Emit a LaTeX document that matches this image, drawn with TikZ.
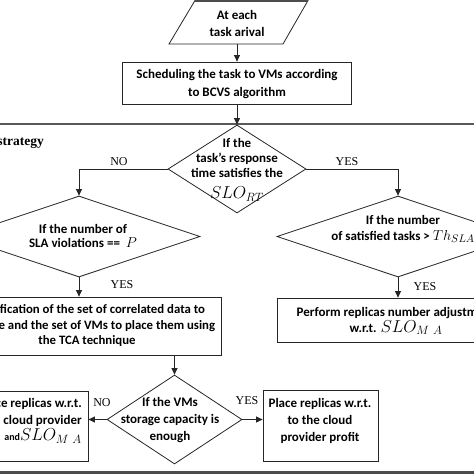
\documentclass[tikz,border=0pt]{standalone}
\usepackage{fontspec}
\setmainfont{Carlito}
\newfontfamily\lserif{Liberation Serif}
\usetikzlibrary{shapes.geometric,arrows.meta}
\tikzset{
  ln/.style={draw=black!85, line width=0.8pt},
  arr/.style={ln, -{Triangle[length=6.5pt,width=6pt]}},
  box/.style={ln, rectangle, inner sep=0pt},
  dia/.style={ln, diamond, inner sep=0pt},
  txt/.style={font=\fontsize{13}{16.5}\selectfont\bfseries, align=center, inner sep=0pt},
  lab/.style={font=\lserif\fontsize{12}{12}\selectfont, inner sep=0pt},
}
\newcommand{\mathbig}[2]{{\fontsize{#1}{#1}\selectfont$#2$}}
\begin{document}
\begin{tikzpicture}[x=1pt,y=-1pt]
\useasboundingbox (0,0) rectangle (474,474);
\clip (0,0) rectangle (474,474);
\fill[white] (0,0) rectangle (474,474);
% frame lines
\draw[draw=black!65, line width=1.3pt] (-10,124) -- (484,124);
\draw[draw=black!70, line width=3.5pt] (-10,473) -- (484,473);
\node[font=\lserif\bfseries\fontsize{13.5}{14}\selectfont, anchor=east, inner sep=0pt] (strat) at (44,142) {Replication strategy};
% start parallelogram
\draw[ln] (169,44) -- (195,0.5) -- (308,0.5) -- (283,44) -- cycle;
\draw[draw=black!70, line width=2pt] (195,1) -- (308,1);
\node[txt, font=\fontsize{13}{17}\selectfont\bfseries] (start) at (237,23) {At each\\task arival};
\coordinate (paraB) at (237,44);
% boxes
\node[box, minimum width=229pt, minimum height=42pt] (sched) at (237,83) {};
\node[txt, font=\fontsize{13}{18}\selectfont\bfseries] (schedt) at (237,84) {Scheduling the task to VMs according\\to BCVS algorithm};
\node[box, minimum width=266pt, minimum height=58pt] (ident) at (88,326) {};
\node[txt, font=\fontsize{12.8}{15.5}\selectfont\bfseries] (identt) at (87,326) {Identification of the set of correlated data to\\replicate and the set of VMs to place them using\\the TCA technique};
\node[box, minimum width=238pt, minimum height=44pt] (perf) at (396,320) {};
\node[txt, font=\fontsize{13}{16}\selectfont\bfseries] (perft) at (396,321) {Perform replicas number adjustment\\w.r.t. \mathbig{17}{SLO_{M\mkern6mu A}}};
\node[box, minimum width=115pt, minimum height=70pt] (lbox) at (30.5,426) {};
\node[txt, align=right, anchor=east, font=\fontsize{13}{16.5}\selectfont\bfseries] (lboxt) at (82,421) {Place replicas w.r.t.\\the cloud provider\hspace*{6pt}\\profit\hspace*{8pt}{\fontsize{10}{10}\selectfont and}\mathbig{17}{SLO_{M\mkern6mu A}}};
\node[box, minimum width=115pt, minimum height=71pt] (rbox) at (320.5,425.5) {};
\node[txt, font=\fontsize{13}{17}\selectfont\bfseries] (rboxt) at (320,421) {Place replicas w.r.t.\\to the cloud\\provider profit};
% diamonds
\node[dia, minimum width=138pt, minimum height=88pt] (d1) at (237,169) {};
\node[txt, font=\fontsize{13}{15}\selectfont\bfseries] (d1t) at (237,170) {If the\\task's response\\time satisfies the\\[6pt]\mathbig{17}{SLO_{RT}}};
\node[dia, minimum width=242pt, minimum height=81pt] (d2) at (79,236.5) {};
\node[txt, font=\fontsize{13}{14}\selectfont\bfseries] (d2t) at (83,236) {If the number of\\SLA violations == ~\mathbig{14}{P}};
\node[dia, minimum width=242pt, minimum height=81pt] (d3) at (398,236.5) {};
\node[txt, font=\fontsize{13}{16}\selectfont\bfseries] (d3t) at (403,229) {If the number\\of satisfied tasks > \mathbig{15}{Th_{SLA}}};
\node[dia, minimum width=135pt, minimum height=89pt] (d4) at (174.5,419.5) {};
\node[txt, font=\fontsize{13}{17}\selectfont\bfseries] (d4t) at (170,420) {If the VMs\\storage capacity is\\enough};
% connectors
\draw[arr] (paraB) -- (sched.north);
\draw[arr] (sched.south) -- (d1.north);
\draw[arr] (d1.west) -| (d2.north);
\draw[arr] (d1.east) -| (d3.north);
\draw[arr] (d2.south) -- (d2.south |- ident.north);
\draw[arr] (d3.south) -- (d3.south |- perf.north);
\draw[arr] (ident.south -| d4.north) -- (d4.north);
\draw[arr] (d4.west) -- (d4.west -| lbox.east);
\draw[arr] (d4.east) -- (d4.east -| rbox.west);
% labels
\node[lab] (no1) at (119,162) {NO};
\node[lab] (yes1) at (347,162) {YES};
\node[lab] (yes2) at (122,285) {YES};
\node[lab] (yes3) at (425,287) {YES};
\node[lab] (no2) at (102,403) {NO};
\node[lab] (yes4) at (247,401) {YES};
\end{tikzpicture}
\end{document}
